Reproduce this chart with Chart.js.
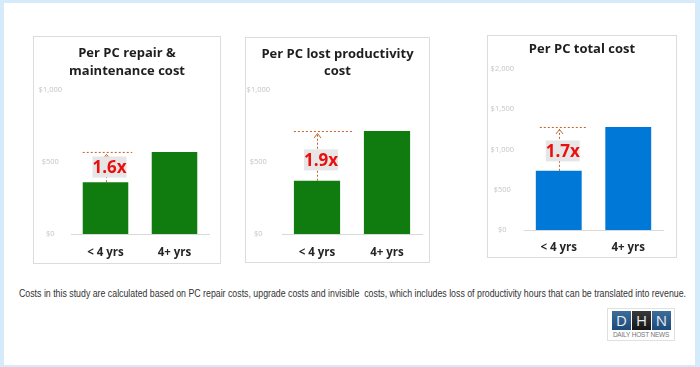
<!DOCTYPE html>
<html><head><meta charset="utf-8">
<script src="https://cdn.jsdelivr.net/npm/chart.js@4.4.1/dist/chart.umd.min.js"></script>
<style>
html,body{margin:0;padding:0;}
body{width:700px;height:367px;background:#d6ebfa;position:relative;overflow:hidden;font-family:"Open Sans",sans-serif;}
#page{position:absolute;left:4px;top:3px;width:691px;height:362px;background:#fff;}
.panel{position:absolute;border:1px solid #dcdcdc;background:#fff;}
.panel canvas{position:absolute;left:0;top:0;}
#note{position:absolute;top:288px;left:19px;white-space:pre;font-family:"Liberation Sans Narrow","Liberation Sans",Arial,sans-serif;font-size:10px;color:#333;transform-origin:0 0;line-height:12px;}
#logo{position:absolute;left:607px;top:308px;width:66px;height:31px;border:1px solid #e0e0e0;background:#fff;}
#logo .b{position:absolute;top:2px;width:19px;height:19px;color:#e8eef5;font:15px "Open Sans",sans-serif;text-align:center;line-height:19px;}
#logo .t{position:absolute;left:3px;top:22px;width:60px;font:6.5px "Liberation Sans",Arial,sans-serif;color:#777;text-align:center;letter-spacing:-0.2px;white-space:nowrap;}
</style></head>
<body>
<div id="page"></div>
<div class="panel" style="left:33px;top:36px;width:186px;height:226px;"><canvas id="c1" width="186" height="226"></canvas></div>
<div class="panel" style="left:245px;top:37px;width:183px;height:224px;"><canvas id="c2" width="183" height="224"></canvas></div>
<div class="panel" style="left:487px;top:35px;width:188px;height:221px;"><canvas id="c3" width="188" height="221"></canvas></div>
<div id="note">Costs in this study are calculated based on PC repair costs, upgrade costs and invisible  costs, which includes loss of productivity hours that can be translated into revenue.</div>
<div id="logo">
  <div class="b" style="left:4px;background:linear-gradient(#3d6d9c,#1d4a78);">D</div>
  <div class="b" style="left:24px;background:linear-gradient(#3a3a3a,#151515);">H</div>
  <div class="b" style="left:44px;background:linear-gradient(#3d6d9c,#1d4a78);">N</div>
  <div class="t">DAILY HOST NEWS</div>
</div>
<script>
// ---- data ----
const categories = ['< 4 yrs', '4+ yrs'];
const repairValues = [360, 570];
const productivityValues = [370, 715];
const totalValues = [735, 1280];
const repairTitle = ['Per PC repair &', 'maintenance cost'];
const productivityTitle = ['Per PC lost productivity', 'cost'];
const totalTitle = ['Per PC total cost'];
const multipliers = ['1.6x', '1.9x', '1.7x'];
const axisMax = [1000, 1000, 2000];
const tickStep = 500;

// fit footnote width
const note = document.getElementById('note');
note.style.transform = 'scaleX(' + (667 / note.getBoundingClientRect().width) + ')';

const decoPlugin = {
  id: 'deco',
  afterDatasetsDraw(chart) {
    const d = chart.options.plugins.deco;
    const ctx = chart.ctx;
    const meta = chart.getDatasetMeta(0);
    const b0 = meta.data[0], b1 = meta.data[1];
    const yTop = b1.y;
    const x = b0.x;
    ctx.save();
    ctx.strokeStyle = '#c8602a';
    ctx.lineWidth = 1;
    ctx.setLineDash([2, 2]);
    ctx.beginPath();
    ctx.moveTo(b0.x - b0.width / 2 + d.lineStart, yTop + 0.5);
    ctx.lineTo(b0.x + b0.width / 2 + d.lineExt, yTop + 0.5);
    ctx.stroke();
    ctx.beginPath();
    ctx.moveTo(Math.round(x) + 0.5, b0.y);
    ctx.lineTo(Math.round(x) + 0.5, yTop + 2);
    ctx.stroke();
    ctx.setLineDash([]);
    ctx.beginPath();
    ctx.moveTo(Math.round(x) - 3, yTop + 7);
    ctx.lineTo(Math.round(x) + 0.5, yTop + 2.5);
    ctx.lineTo(Math.round(x) + 4, yTop + 7);
    ctx.stroke();
    const cy = (b0.y + yTop) / 2 + d.boxDy;
    const cx = x + 4;
    ctx.fillStyle = '#e6e6e6';
    ctx.fillRect(cx - 17, cy - 10.5, 34, 21);
    ctx.fillStyle = '#ea1010';
    ctx.font = 'bold 17px "Open Sans", sans-serif';
    ctx.textAlign = 'center';
    ctx.textBaseline = 'middle';
    ctx.fillText(d.label, cx, cy + 1);
    // title
    ctx.fillStyle = '#1e1e1e';
    ctx.font = 'bold 13px "Open Sans", sans-serif';
    d.title.forEach((t, i) => ctx.fillText(t, chart.width / 2, d.titleY[i]));
    ctx.restore();
  }
};

function makeChart(id, values, color, max, title, label, cfg) {
  new Chart(document.getElementById(id), {
    type: 'bar',
    data: {
      labels: categories,
      datasets: [{ data: values, backgroundColor: color, barPercentage: 0.66, categoryPercentage: 1.0 }]
    },
    options: {
      responsive: false,
      animation: false,
      events: [],
      layout: { padding: { left: 0, right: cfg.right, top: cfg.top, bottom: 0 } },
      plugins: {
        legend: { display: false },
        tooltip: { enabled: false },
        deco: { title: title, titleY: cfg.titleY, label: label, lineStart: cfg.lineStart, lineExt: cfg.lineExt, boxDy: cfg.boxDy }
      },
      scales: {
        x: {
          grid: { display: false, drawTicks: false, tickLength: 0 },
          border: { display: true, color: '#d9d9d9', width: 1 },
          ticks: { color: '#262626', font: { family: '"Open Sans", sans-serif', size: 11.5, weight: 'bold' }, padding: cfg.xPad },
          afterFit: s => { s.height = cfg.xHeight; }
        },
        y: {
          min: 0, max: max,
          grid: { display: false, drawTicks: false, tickLength: 0 },
          border: { display: false },
          ticks: {
            stepSize: tickStep, crossAlign: 'center', padding: cfg.yPad, color: '#c4c4c4',
            font: { family: '"Open Sans", sans-serif', size: 7.5 },
            callback: v => '$' + v.toLocaleString('en-US')
          },
          afterFit: s => { s.width = cfg.yWidth; }
        }
      }
    },
    plugins: [decoPlugin]
  });
}

makeChart('c1', repairValues, '#107c10', axisMax[0], repairTitle, multipliers[0],
  { right: 11, top: 53, yWidth: 37, xHeight: 29, yPad: 9, xPad: 12, titleY: [16, 34], lineStart: 0, lineExt: 4, boxDy: 0 });
makeChart('c2', productivityValues, '#107c10', axisMax[1], productivityTitle, multipliers[1],
  { right: 7, top: 52, yWidth: 36, xHeight: 28, yPad: 12, xPad: 12, titleY: [16, 33], lineStart: 0, lineExt: 12, boxDy: 4 });
makeChart('c3', totalValues, '#0078d7', axisMax[2], totalTitle, multipliers[2],
  { right: 13, top: 33, yWidth: 36, xHeight: 27, yPad: 10, xPad: 11, titleY: [13], lineStart: 4, lineExt: 5, boxDy: 2 });
</script>
</body></html>
